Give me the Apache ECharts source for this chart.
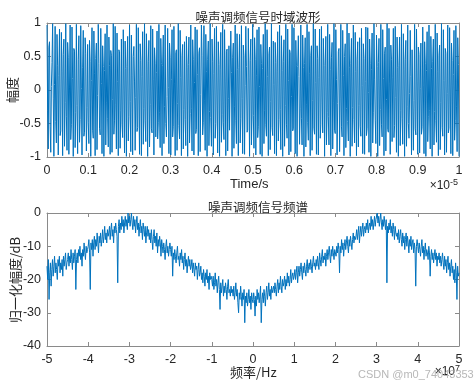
<!DOCTYPE html>
<html><head><meta charset="utf-8">
<script src="https://cdn.jsdelivr.net/npm/echarts@6/dist/echarts.min.js"></script>
<style>html,body{margin:0;padding:0;background:#fff}#c{width:474px;height:387px}</style>
</head><body><div id="c"></div>
<script>
// ---- top: time-domain waveform (amplitude), x in units of 1e-5 s ----
const timeTicks = ['0','0.1','0.2','0.3','0.4','0.5','0.6','0.7','0.8','0.9','1'];
const ampTicks = ['-1','-0.5','0','0.5','1'];
const timeSamples = [
0.97,-0.31,-0.88,0.64,0.72,-0.55,-0.93,0.05,0.41,0.99,-0.12,-0.99,0.08,0.95,-0.47,-0.79,0.83,0.36,-0.97,0.22,0.91,-0.68,-0.61,0.86,0.27,-0.98,
0.53,0.76,-0.84,-0.19,0.99,-0.39,-0.9,0.71,0.49,-0.96,0.03,0.97,-0.74,-0.52,0.94,0.17,-0.99,0.62,0.58,-0.86,-0.34,0.98,-0.23,-0.95,0.45,
0.81,-0.78,-0.44,0.96,0.02,-0.97,0.33,0.89,-0.69,-0.63,0.78,0.54,-0.91,-0.26,0.68,-0.49,-0.8,0.74,0.43,-0.99,0.14,0.93,-0.6,-0.72,0.88,
0.24,-0.98,0.47,0.7,-0.89,-0.08,0.98,0.4,-0.57,-0.67,0.92,0.1,-0.95,0.66,0.35,-0.99,0.29,0.84,-0.82,-0.18,0.97,-0.42,-0.85,0.79,0.37,-0.96,
0.59,0.52,-0.93,-0.14,0.99,-0.66,-0.45,0.95,-0.21,-0.88,0.85,0.13,-0.98,0.6,0.57,-0.87,-0.3,0.76,-0.51,-0.71,0.9,0.06,-0.94,0.73,0.32,
-0.99,0.35,0.8,-0.76,-0.4,0.97,-0.17,-0.92,0.82,0.21,-0.97,0.5,0.65,0.12,-0.9,-0.11,0.98,-0.62,-0.56,0.93,-0.03,-0.96,0.69,0.44,-0.98,0.2,
0.87,-0.81,-0.28,0.99,-0.46,-0.77,0.84,0.3,-0.99,0.42,0.74,-0.85,-0.22,0.96,-0.58,-0.64,0.91,0.15,-0.97,0.63,0.39,-0.7,0.26,0.88,-0.73,
-0.48,0.98,-0.33,-0.86,0.77,0.4,-0.98,0.37,0.82,-0.8,-0.25,0.97,-0.5,-0.7,-0.1,0.92,0.04,-0.95,0.7,0.48,-0.97,0.16,0.9,-0.7,-0.54,0.95,
0.09,-0.98,0.56,0.6,-0.9,-0.2,0.99,-0.53,-0.73,0.89,0.19,-0.98,0.51,0.68,-0.88,-0.29,0.72,-0.44,-0.83,0.8,0.33,-0.99,0.38,0.79,-0.79,
-0.35,0.97,-0.27,-0.91,0.75,0.46,-0.97,0.11,0.94,-0.65,-0.59,0.9,0.23,-0.98,0.55,0.63,-0.92,-0.07,0.97,0.52,-0.67,-0.48,0.96,-0.15,-0.9,0.83,
0.28,-0.99,0.46,0.73,-0.83,-0.32,0.99,-0.41,-0.84,0.76,0.42,-0.97,0.25,0.92,-0.72,-0.5,0.95,-0.06,-0.94,0.72,0.38,-0.99,0.3,0.86,-0.78,
-0.37,0.98,-0.48,-0.74,0.9,0.12,-0.98,0.58,0.61,-0.91,-0.13,0.66,-0.6,-0.62,0.88,0.26,-0.99,0.49,0.7,-0.87,-0.24,0.97,-0.45,-0.8,0.84,
0.31,-0.98,0.34,0.83,-0.79,-0.42,0.96,-0.13,-0.95,0.67,0.51,-0.96,0.07,0.95,0.35,-0.63,-0.6,0.92,0.18,-0.99,0.44,0.76,-0.82,-0.36,0.98,-0.38,
-0.87,0.78,0.45,-0.97,0.21,0.9,-0.71,-0.55,0.94,0.05,-0.96,0.68,0.4,-0.99,0.32,0.83,-0.8,-0.3,0.99,-0.52,-0.69,0.9,0.2,-0.98,0.54,
0.64,-0.89,-0.17,0.99,-0.56,-0.68,0.73,0.08,-0.95,0.71,0.41,-0.98,0.27,0.87,-0.76,-0.44,0.97,-0.29,-0.89,0.81,0.29,-0.99,0.43,0.75,-0.84,
-0.23,0.98,-0.51,-0.72,0.91,0.14,-0.97,0.6,0.56,-0.92,-0.1,0.98,-0.61,-0.58,0.93,0.0,-0.95,0.74,0.36,-0.99,0.35,0.81,0.2,-0.81,-0.27,0.97,
-0.43,-0.82,0.82,0.34,-0.99,0.4,0.78,-0.85,-0.21,0.98,-0.49,-0.75,0.87,0.24,-0.98,0.52,0.66,-0.9,-0.16,0.99,-0.57,-0.66,0.91,0.11,-0.96,
0.66,0.47,-0.97,0.19,0.91,-0.72,-0.51,0.95,-0.09,-0.64,0.77,0.37,-0.99,0.36,0.8,-0.82,-0.34,0.98,-0.4,-0.82,0.83,0.31,-0.98,0.48,0.71,
-0.88,-0.18,0.99,-0.6,-0.65,0.9,0.16,-0.97,-0.2,0.57,0.62,-0.92,-0.12,0.98,-0.55,-0.7,0.89,0.22,-0.98,0.5,0.69,-0.86,-0.28,0.99,-0.47,-0.76,
0.85,0.33,-0.99,0.39,0.77,-0.84,-0.26,0.97,-0.44,-0.79,0.86,0.28,-0.98,0.46,0.72,-0.85,-0.23,0.78,-0.54,-0.69,0.92,0.07,-0.95,0.69,0.47,
-0.96,0.13,0.94,-0.68,-0.57,0.93,-0.04,-0.93,0.76,0.39,-0.99,0.31,0.85,-0.79,-0.33,0.99,0.15,-0.45,-0.8,0.82,0.35,-0.99,0.41,0.77,-0.83,-0.29,
0.98,-0.52,-0.7,0.9,0.17,-0.98,0.55,0.64,-0.91,-0.14,0.99,-0.59,-0.63,0.92,0.09,-0.96,0.67,0.46,-0.77,0.18,0.92,-0.71,-0.53,0.95,-0.11,
-0.93,0.79,0.34,-0.99,0.37,0.79,-0.83,-0.31,0.98,-0.42,-0.81,0.84,0.3,-0.99,0.45,0.74,-0.84,-0.25,0.97,-0.5,-0.72,-0.05,0.89,0.2,-0.97,0.6,
0.58,-0.9,-0.16,0.98,-0.58,-0.67,0.91,0.12,-0.96,0.64,0.53,-0.94,0.02,0.7,-0.66,-0.55,0.94,0.06,-0.95,0.72,0.4,-0.99,0.29,0.87,-0.77,
-0.39,0.97,-0.3,-0.88,0.8,0.32,-0.99,0.43,0.76,-0.82,-0.32,0.98,-0.46,-0.78,0.85,0.27,-0.98,0.52,0.67,-0.89,-0.19,0.99,-0.56,-0.69,0.9,
0.14,-0.97,0.62,0.55,-0.93,-0.05,0.97,-0.64,-0.57,0.93,0.03,-0.95,0.7,0.44,-0.98,0.23,0.89,-0.75,-0.46,0.96,-0.24,-0.92,0.78,0.38,-0.99
];
const timeStart = 0, timeEnd = 1; // ×1e-5 s

// ---- bottom: normalized spectrum (dB), x in units of 1e7 Hz ----
const freqTicks = ['-5','-4','-3','-2','-1','0','1','2','3','4','5'];
const dbTicks = ['-40','-30','-20','-10','0'];
const spectrumDb = [
-16,-20,-14,-26,-18,-15,-22,-17,-14,-19,-16,-13,-18,-15,-17,-20,-14,-16,-13,-18,-15,-17,-14,-19,-13,-16,-14,-12,-17,-15,
-14,-12,-16,-13,-15,-11,-14,-17,-12,-15,-13,-11,-23,-14,-12,-15,-11,-13,-10,-14,-12,-16,-11,-13,-9,-12,-14,-10,-12,-11,
-10,-8,-12,-23,-9,-11,-8,-13,-9,-7,-11,-8,-10,-6,-9,-12,-7,-9,-6,-10,-8,-5,-9,-7,-4,-8,-6,-9,-5,-7,
-6,-4,-8,-5,-3,-7,-5,-9,-4,-6,-3,-5,-7,-21,-4,-2,-6,-3,-5,-1,-4,-2,-6,-3,-1,-4,-2,-5,0,-3,
-1,-4,-2,0,-3,-5,-1,-4,-2,-6,-3,-1,-5,-3,-7,-4,-2,-6,-4,-8,-3,-5,-7,-4,-9,-6,-4,-7,-5,-8,
-6,-9,-5,-8,-11,-7,-5,-9,-7,-10,-6,-12,-8,-10,-7,-9,-13,-8,-10,-12,-9,-11,-14,-10,-8,-12,-10,-13,-11,-9,
-11,-13,-10,-19,-12,-14,-11,-13,-15,-12,-10,-14,-13,-16,-12,-14,-11,-15,-13,-17,-14,-12,-16,-14,-18,-15,-13,-16,-14,-17,
-16,-14,-18,-15,-17,-19,-15,-17,-16,-20,-17,-15,-19,-18,-16,-20,-18,-21,-17,-19,-22,-18,-20,-17,-21,-19,-23,-18,-20,-19,
-20,-22,-19,-23,-21,-18,-22,-20,-24,-21,-19,-23,-29,-21,-24,-22,-20,-25,-22,-24,-21,-23,-26,-22,-20,-24,-23,-25,-22,-24,
-23,-25,-22,-26,-24,-21,-25,-23,-27,-30,-24,-26,-22,-25,-28,-24,-26,-23,-33,-25,-27,-24,-28,-26,-23,-27,-25,-29,-24,-26,
-27,-24,-26,-31,-25,-28,-23,-26,-24,-27,-25,-22,-33,-26,-24,-27,-23,-25,-28,-24,-22,-26,-24,-21,-25,-23,-26,-22,-24,-23,
-22,-24,-21,-23,-25,-22,-20,-24,-21,-23,-19,-22,-24,-20,-22,-21,-19,-23,-20,-22,-18,-21,-19,-22,-20,-17,-21,-19,-18,-20,
-19,-17,-20,-18,-16,-21,-18,-16,-19,-17,-15,-18,-20,-16,-18,-15,-17,-19,-16,-14,-18,-16,-15,-17,-14,-16,-18,-15,-13,-16,
-15,-17,-14,-16,-13,-15,-17,-12,-14,-16,-13,-11,-15,-13,-14,-12,-16,-13,-11,-14,-12,-10,-13,-15,-11,-13,-10,-12,-14,-11,
-11,-13,-10,-12,-9,-11,-18,-10,-12,-8,-11,-9,-13,-10,-8,-11,-9,-7,-10,-12,-8,-10,-7,-9,-11,-8,-6,-9,-7,-8,
-7,-5,-8,-6,-4,-9,-6,-4,-7,-5,-3,-7,-5,-4,-6,-3,-5,-2,-6,-4,-3,-5,-1,-4,-2,-5,-3,-1,-4,-2,
-2,0,-3,-1,-4,-2,0,-3,-5,-2,-4,-1,-3,-5,-2,-21,-4,-6,-3,-5,-2,-6,-4,-7,-3,-5,-8,-4,-6,-7,
-6,-8,-5,-9,-7,-5,-8,-10,-6,-9,-7,-11,-8,-6,-10,-7,-9,-12,-8,-10,-7,-11,-9,-8,-12,-9,-11,-22,-10,-8,
-10,-12,-9,-11,-13,-10,-8,-12,-10,-14,-11,-9,-13,-11,-12,-14,-10,-12,-19,-13,-11,-14,-12,-15,-13,-11,-14,-12,-16,-13,
-14,-12,-15,-13,-16,-14,-12,-15,-17,-13,-16,-14,-18,-15,-13,-17,-15,-19,-16,-14,-18,-16,-20,-17,-21,-15,-18,-26,-16,-19,
-18
];
const freqStart = -5, freqEnd = 5; // ×1e7 Hz

const timeData = timeSamples.map((v, i) => [timeStart + (timeEnd - timeStart) * i / (timeSamples.length - 1), v]);
const specData = spectrumDb.map((v, i) => [freqStart + (freqEnd - freqStart) * i / (spectrumDb.length - 1), v]);

const txt = '#262626', boxCol = '#8a8a8a', blue = '#0072BD';
const tickFont = {color: txt, fontSize: 12.5, fontFamily: 'Liberation Sans, Arial, sans-serif'};
const cjk = 'Noto Sans CJK SC, sans-serif';

function mainX(grid, min, max, interval, labels) {
  return {type: 'value', gridIndex: grid, min, max, interval, position: 'bottom',
    axisLine: {show: true, onZero: false, lineStyle: {color: boxCol, width: 1}},
    axisTick: {show: true, inside: true, length: 4, lineStyle: {color: boxCol}},
    splitLine: {show: false},
    axisLabel: Object.assign({margin: 7, formatter: v => labels[Math.round((v - min) / interval)]}, tickFont)};
}
function sideX(grid, min, max, interval) {
  return {type: 'value', gridIndex: grid, min, max, interval, position: 'top',
    axisLine: {show: true, onZero: false, lineStyle: {color: boxCol}},
    axisTick: {show: true, inside: true, length: 4, lineStyle: {color: boxCol}},
    axisLabel: {show: false}, splitLine: {show: false}};
}
function mainY(grid, min, max, interval, labels) {
  return {type: 'value', gridIndex: grid, min, max, interval, position: 'left',
    axisLine: {show: true, onZero: false, lineStyle: {color: boxCol}},
    axisTick: {show: true, inside: true, length: 4, lineStyle: {color: boxCol}},
    splitLine: {show: false},
    axisLabel: Object.assign({margin: 6, formatter: v => labels[Math.round((v - min) / interval)]}, tickFont)};
}
function sideY(grid, min, max, interval) {
  return {type: 'value', gridIndex: grid, min, max, interval, position: 'right',
    axisLine: {show: true, onZero: false, lineStyle: {color: boxCol}},
    axisTick: {show: true, inside: true, length: 4, lineStyle: {color: boxCol}},
    axisLabel: {show: false}, splitLine: {show: false}};
}

const chart = echarts.init(document.getElementById('c'), null, {renderer: 'canvas'});
chart.setOption({
  animation: false,
  backgroundColor: '#fff',
  title: [
    {text: '噪声调频信号时域波形', left: 253, top: 6, textAlign: 'center',
     textStyle: {fontFamily: cjk, fontSize: 12.5, fontWeight: 'normal', color: txt}},
    {text: '噪声调频信号频谱', left: 253, top: 196, textAlign: 'center',
     textStyle: {fontFamily: cjk, fontSize: 12.5, fontWeight: 'normal', color: txt}}
  ],
  grid: [
    {left: 47, top: 23, width: 412, height: 134},
    {left: 47, top: 213, width: 412, height: 133}
  ],
  xAxis: [
    mainX(0, 0, 1, 0.1, timeTicks), sideX(0, 0, 1, 0.1),
    mainX(1, -5, 5, 1, freqTicks), sideX(1, -5, 5, 1)
  ],
  yAxis: [
    mainY(0, -1, 1, 0.5, ampTicks), sideY(0, -1, 1, 0.5),
    mainY(1, -40, 0, 10, dbTicks), sideY(1, -40, 0, 10)
  ],
  series: [
    {type: 'line', xAxisIndex: 0, yAxisIndex: 0, data: timeData, showSymbol: false,
     lineStyle: {color: blue, width: 1}, silent: true},
    {type: 'line', xAxisIndex: 2, yAxisIndex: 2, data: specData, showSymbol: false,
     lineStyle: {color: blue, width: 1}, silent: true}
  ],
  graphic: [
    {type: 'text', left: 230, top: 178, style: {text: 'Time/s', fill: txt, font: '13px Liberation Sans, Arial, sans-serif'}},
    {type: 'text', right: 16, top: 178, style: {rich: {a: {fontSize: 12, fill: txt, fontFamily: 'Liberation Sans'}, b: {fontSize: 9, fill: txt, fontFamily: 'Liberation Sans', verticalAlign: 'top', padding: [0,0,7,0]}}, text: '{a|×10}{b|-5}'}},
    {type: 'text', left: 230, top: 366, style: {text: '频率/Hz', fill: txt, font: '13px Noto Sans CJK SC, sans-serif'}},
    {type: 'text', x: 12, y: 90, rotation: Math.PI / 2, style: {text: '幅度', fill: txt, font: '13px Noto Sans CJK SC, sans-serif', align: 'center', verticalAlign: 'middle'}},
    {type: 'text', x: 15, y: 280, rotation: Math.PI / 2, style: {text: '归一化幅度/dB', fill: txt, font: '13px Noto Sans CJK SC, sans-serif', align: 'center', verticalAlign: 'middle'}},
    {type: 'text', right: 14, top: 364, style: {rich: {a: {fontSize: 12, fill: txt, fontFamily: 'Liberation Sans'}, b: {fontSize: 9, fill: txt, fontFamily: 'Liberation Sans', verticalAlign: 'top', padding: [0,0,7,0]}}, text: '{a|×10}{b|7}'}},
    {type: 'text', left: 358, top: 369, style: {text: 'CSDN @m0_74043353', fill: 'rgba(170,170,170,0.85)', font: '11px Liberation Sans, Arial, sans-serif'}}
  ]
});
</script></body></html>
